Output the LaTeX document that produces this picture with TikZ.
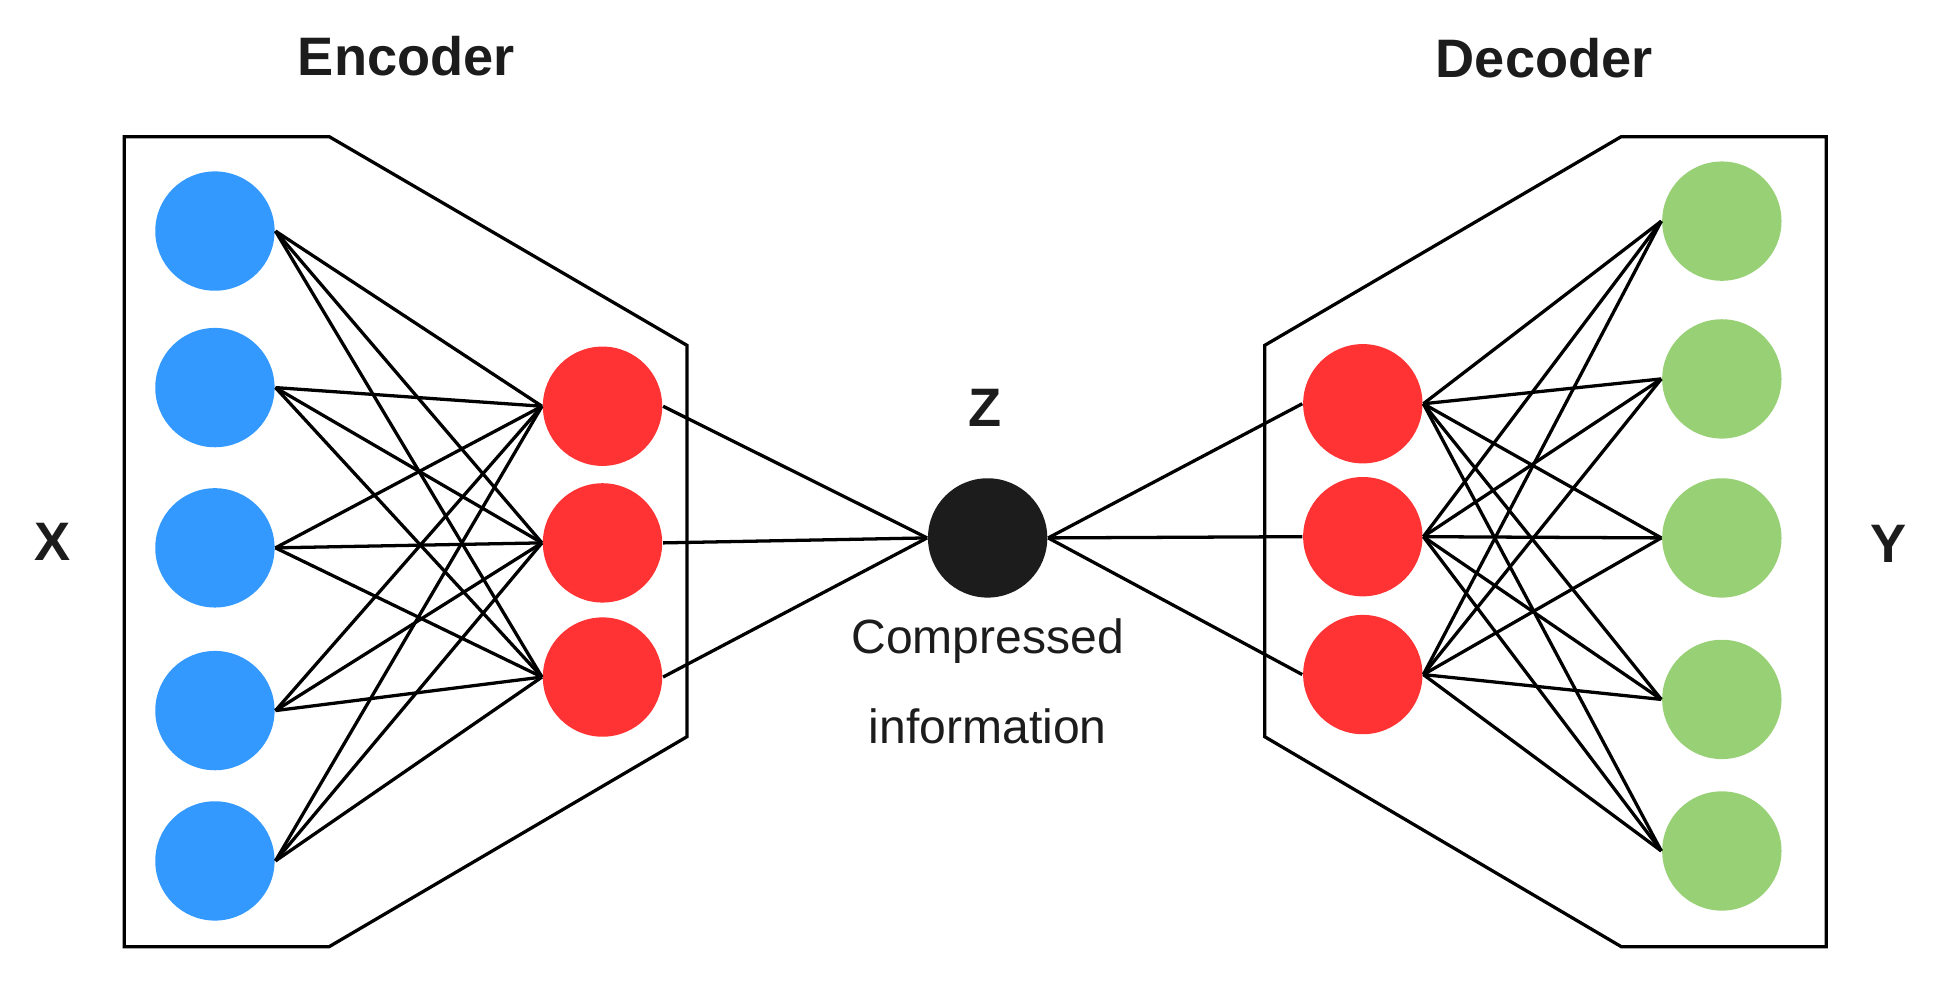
\documentclass[tikz,border=0pt]{standalone}
\usepackage{fontspec}
\setmainfont{Liberation Sans}
\begin{document}
\begin{tikzpicture}[x=0.01cm,y=-0.01cm,
  neuron/.style={circle,minimum size=0.96cm,inner sep=0pt,draw=none},
  hid/.style={neuron,fill={rgb,255:red,255;green,51;blue,51}},
  outp/.style={neuron,fill={rgb,255:red,152;green,208;blue,118}},
  link/.style={line width=0.75pt},
  box/.style={line width=0.75pt},
  title/.style={text={rgb,255:red,28;green,28;blue,28},font=\fontsize{12.4}{15}\selectfont\bfseries},
  caption/.style={text={rgb,255:red,28;green,28;blue,28},font=\fontsize{11}{13}\selectfont}]
\useasboundingbox (0,0) rectangle (1560,794);
\definecolor{inblue}{RGB}{51,153,255}
% boxes
\draw[box] (100,110) -- (265,110) -- (553,278) -- (553,593) -- (265,762) -- (100,762) -- cycle;
\draw[box] (1470,110) -- (1305,110) -- (1018,278) -- (1018,593) -- (1305,762) -- (1470,762) -- cycle;
% neurons
\foreach \i/\y in {1/186,2/312,3/441,4/572,5/693}
  \node[neuron,fill=inblue] (x\i) at (173,\y) {};
\foreach \i/\y in {1/327,2/437,3/545}
  \node[hid] (e\i) at (485,\y) {};
\node[neuron,fill={rgb,255:red,28;green,28;blue,28}] (z) at (795,433) {};
\foreach \i/\y in {1/325,2/432,3/543}
  \node[hid] (d\i) at (1097,\y) {};
\foreach \i/\y in {1/178,2/305,3/433,4/563,5/685}
  \node[outp] (y\i) at (1386,\y) {};
% connections
\foreach \i in {1,...,5}
  \foreach \j in {1,2,3}
    \draw[link] (x\i.east) -- (e\j.west);
\foreach \j in {1,2,3} {
  \draw[link] (e\j.east) -- (z.west);
  \draw[link] (z.east) -- (d\j.west);
}
\foreach \j in {1,2,3}
  \foreach \i in {1,...,5}
    \draw[link] (d\j.east) -- (y\i.west);
% labels
\node[title] (tenc) at (327,45) {Encoder};
\node[title] (tdec) at (1243,47) {Decoder};
\node[title] (tx) at (42,436) {X};
\node[title] (ty) at (1520,438) {Y};
\node[title] (tz) at (793,328) {Z};
\node[caption] (tc) at (795,516) {Compressed};
\node[caption] (ti) at (795,585) {information};
\end{tikzpicture}
\end{document}
